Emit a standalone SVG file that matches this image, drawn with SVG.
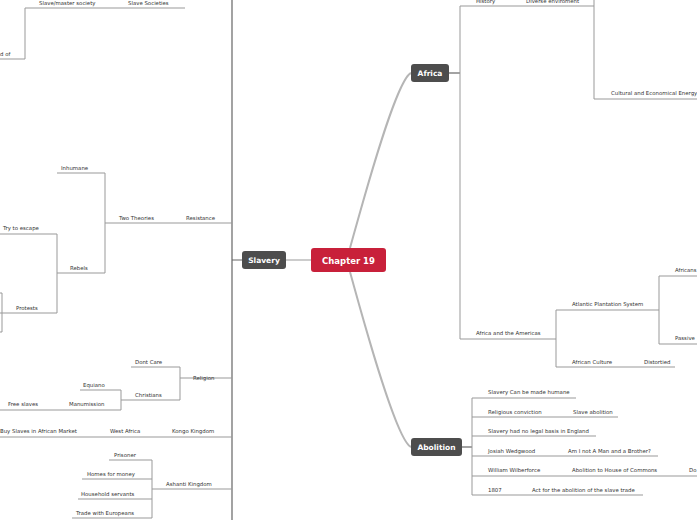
<svg xmlns="http://www.w3.org/2000/svg" width="697" height="520" viewBox="0 0 697 520">
<style>
text{font-family:"DejaVu Sans","Liberation Sans",sans-serif;font-size:5.4px;fill:#333}
.l{stroke:#999;stroke-width:1;fill:none}
.d{stroke:#666;stroke-width:1.2;fill:none}
.c{stroke:#b5b5b5;stroke-width:2;fill:none}
.b{fill:#4d4d4d}
.t{font-size:7.5px;font-weight:bold;fill:#fff;text-anchor:middle}
</style>
<rect width="697" height="520" fill="#fff"/>
<g id="connectors">
<path class="c" d="M350 248 C358 220 395 80 411 73"/>
<path class="c" d="M350 272 C358 300 395 440 411 447"/>
<path class="l" d="M286 260H311"/>
<path class="d" d="M232 260H242M232 0V520"/>
<path class="l" d="M25 8H185M25 8V59M0 59H25"/>
<path class="l" d="M105 223H232M105 173V273M57 173H105M57 273H105M57 234V313M0 234H57M0 313H57M2 293V332M0 293H2M0 332H2"/>
<path class="l" d="M180 378H232M180 367V400M131 367H180M121 400H180M121 390V410M80 390H121M0 410H121"/>
<path class="l" d="M0 437H232"/>
<path class="l" d="M152 489H232M152 460V518M109 460H152M82 479H152M78 499H152M72 518H152"/>
<path class="d" d="M449 73H460"/>
<path class="l" d="M460 6V339M460 6H594M594 0V99M594 99H697M460 339H556M556 310V367M556 310H659M659 276V344M659 276H697M659 344H697M556 367H675"/>
<path class="d" d="M462 447H472"/>
<path class="l" d="M472 398V495M472 398H576M472 417H618M472 436H596M472 456H658M472 476H697M472 495H643"/>
</g>
<g id="chapter19"><rect x="311" y="248" width="75" height="24" rx="3" fill="#c8203a"/><text class="t" x="348.5" y="263.5" style="font-size:8.5px">Chapter 19</text></g>
<g id="slavery"><rect class="b" x="242" y="251" width="44" height="18" rx="3"/><text class="t" x="264" y="262.8">Slavery</text></g>
<g id="africa"><rect class="b" x="411" y="64" width="38" height="18" rx="3"/><text class="t" x="430" y="75.8">Africa</text></g>
<g id="abolition"><rect class="b" x="411" y="438" width="51" height="18" rx="3"/><text class="t" x="436.5" y="449.8">Abolition</text></g>
<g id="slavery-texts">
<text x="39" y="5">Slave/master society</text><text x="128" y="5">Slave Societies</text><text x="0" y="56">d of</text>
<text x="61" y="170">Inhumane</text><text x="119" y="220">Two Theories</text><text x="186" y="220">Resistance</text>
<text x="3" y="230">Try to escape</text><text x="70" y="270">Rebels</text><text x="16" y="310">Protests</text>
<text x="135" y="364">Dont Care</text><text x="193" y="380">Religion</text><text x="135" y="397">Christians</text>
<text x="83" y="387">Equiano</text><text x="8" y="406">Free slaves</text><text x="69" y="406">Manumission</text>
<text x="0" y="433">Buy Slaves in African Market</text><text x="110" y="433">West Africa</text><text x="172" y="433">Kongo Kingdom</text>
<text x="114" y="457">Prisoner</text><text x="87" y="476">Homes for money</text><text x="166" y="486">Ashanti Kingdom</text>
<text x="81" y="496">Household servants</text><text x="76" y="515">Trade with Europeans</text>
</g>
<g id="africa-texts">
<text x="476" y="3">History</text><text x="526" y="3">Diverse enviroment</text>
<text x="611" y="95">Cultural and Economical Energy</text>
<text x="675" y="272">Africans</text><text x="572" y="306">Atlantic Plantation System</text>
<text x="476" y="335">Africa and the Americas</text><text x="675" y="340">Passive</text>
<text x="572" y="364">African Culture</text><text x="644" y="364">Distortied</text>
</g>
<g id="abolition-texts">
<text x="488" y="394">Slavery Can be made humane</text>
<text x="488" y="414">Religious conviction</text><text x="573" y="414">Slave abolition</text>
<text x="488" y="433">Slavery had no legal basis in England</text>
<text x="488" y="453">Josiah Wedgwood</text><text x="568" y="453">Am I not A Man and a Brother?</text>
<text x="488" y="472">William Wilberforce</text><text x="572" y="472">Abolition to House of Commons</text><text x="689" y="472">Do</text>
<text x="488" y="492">1807</text><text x="532" y="492">Act for the abolition of the slave trade</text>
</g>
</svg>
